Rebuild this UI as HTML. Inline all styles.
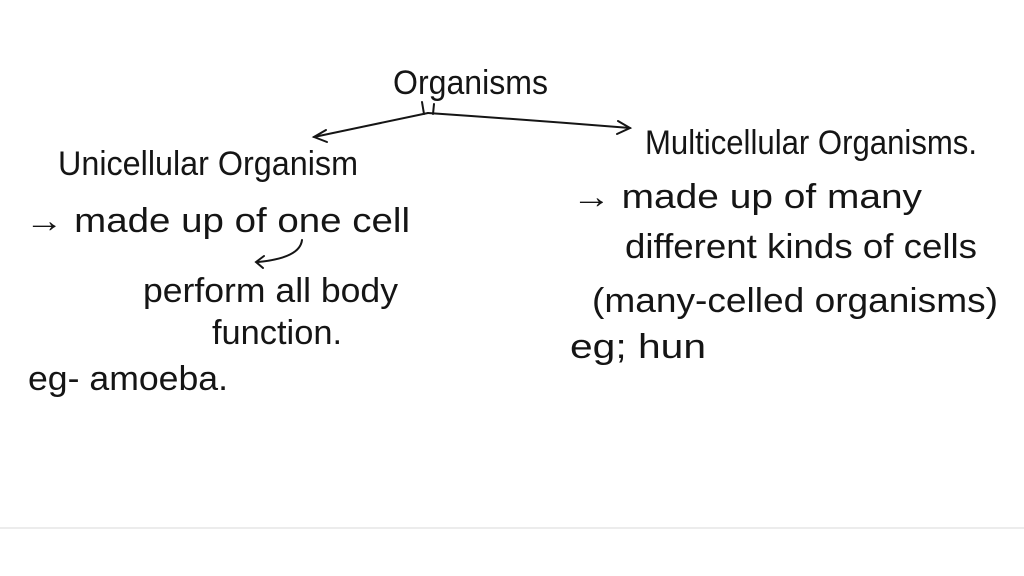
<!DOCTYPE html>
<html><head><meta charset="utf-8"><style>
html,body{margin:0;padding:0;background:#fff;}
svg{display:block;}
text{font-family:"Liberation Sans",sans-serif;fill:#151515;}
</style></head><body>
<svg width="1024" height="576" viewBox="0 0 1024 576">
<rect width="1024" height="576" fill="#fff"/>
<line x1="0" y1="528" x2="1024" y2="528" stroke="#e6e6e6" stroke-width="1.5"/>
<g font-size="34">
<text x="393" y="94" textLength="155" lengthAdjust="spacingAndGlyphs">Organisms</text>
<text x="58" y="175" textLength="300" lengthAdjust="spacingAndGlyphs">Unicellular Organism</text>
<text x="25" y="232" textLength="385" lengthAdjust="spacingAndGlyphs">→ made up of one cell</text>
<text x="143" y="302" textLength="255" lengthAdjust="spacingAndGlyphs">perform all body</text>
<text x="212" y="344" textLength="130" lengthAdjust="spacingAndGlyphs">function.</text>
<text x="28" y="390" textLength="200" lengthAdjust="spacingAndGlyphs">eg- amoeba.</text>
<text x="645" y="154" textLength="332" lengthAdjust="spacingAndGlyphs">Multicellular Organisms.</text>
<text x="572" y="208" textLength="350" lengthAdjust="spacingAndGlyphs">→ made up of many</text>
<text x="625" y="258" textLength="352" lengthAdjust="spacingAndGlyphs">different kinds of cells</text>
<text x="592" y="312" textLength="406" lengthAdjust="spacingAndGlyphs">(many-celled organisms)</text>
<text x="570" y="358" textLength="136" lengthAdjust="spacingAndGlyphs">eg; hun</text>
</g>
<g fill="none" stroke="#151515" stroke-width="2" stroke-linecap="round">
<path d="M422 102 L424 114 M434 104 L433 114"/>
<path d="M428 113 Q370 125 314 137"/>
<path d="M326 130 L314 137 L327 142"/>
<path d="M428 113 Q530 120 630 128"/>
<path d="M618 121 L630 128 L617 134"/>
<path d="M302 240 Q300 258 258 262 M264 256 L256 262 L263 268"/>
</g>
</svg>
</body></html>
